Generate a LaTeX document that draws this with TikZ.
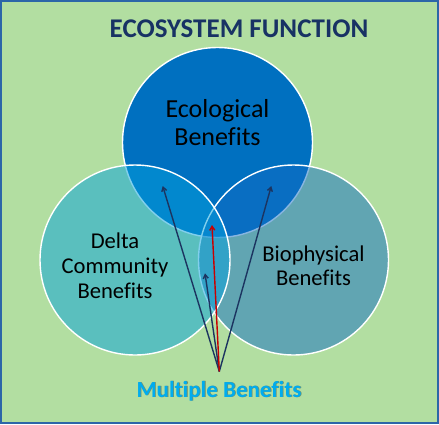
\documentclass[tikz,border=0pt]{standalone}
\usepackage{fontspec}
\setmainfont[Ligatures=NoCommon]{Carlito}
\usetikzlibrary{arrows.meta}
\definecolor{bggreen}{RGB}{178,222,161}
\definecolor{frameblue}{RGB}{44,102,168}
\definecolor{topblue}{RGB}{0,112,192}
\definecolor{rightblue}{RGB}{18,109,196}
\definecolor{leftblue}{RGB}{4,161,220}
\definecolor{navy}{RGB}{24,50,100}
\definecolor{arrownavy}{RGB}{28,52,96}
\definecolor{arrowred}{RGB}{200,0,0}
\definecolor{multiblue}{RGB}{0,172,238}
\tikzset{
  venn/.style={circle, minimum size=190pt, inner sep=0pt, draw=white, line width=1.4pt},
  lbl/.style={anchor=base, inner sep=0pt, text=black},
  arr/.style={line width=1.4pt, -{Straight Barb[length=4pt,width=5pt]}},
}
\begin{document}
\begin{tikzpicture}[x=1pt,y=-1pt]
\useasboundingbox (0,0) rectangle (439,424);
\fill[bggreen] (0,0) rectangle (439,424);
\draw[frameblue, line width=2.4pt] (1.2,1.2) rectangle (437.8,422.8);
% circles
\node[venn, fill=topblue] (top) at (217.5,142.5) {};
\node[venn, fill=rightblue, fill opacity=0.5] (right) at (293.5,260) {};
\node[venn, fill=leftblue, fill opacity=0.5] (left) at (135,260) {};
% title
\node[anchor=base, inner sep=0pt, text=navy, font=\bfseries\fontsize{27}{31}\selectfont] (title) at (239,37.3) {ECOSYSTEM FUNCTION};
% labels
\node[lbl, font=\fontsize{26}{30}\selectfont] (eco1) at (217.5,117) {Ecological};
\node[lbl, font=\fontsize{26}{30}\selectfont] (eco2) at (217.5,145) {Benefits};
\node[lbl, font=\fontsize{22.6}{26}\selectfont] (del1) at (115,248.3) {Delta};
\node[lbl, font=\fontsize{22.6}{26}\selectfont] (del2) at (115,273.3) {Community};
\node[lbl, font=\fontsize{22.6}{26}\selectfont] (del3) at (115,298.3) {Benefits};
\node[lbl, font=\fontsize{22.6}{26}\selectfont] (bio1) at (313.5,261.7) {Biophysical};
\node[lbl, font=\fontsize{22.6}{26}\selectfont] (bio2) at (313.5,285.5) {Benefits};
% multiple benefits
\node[anchor=base, inner sep=0pt, text=black, text opacity=0.35, font=\bfseries\fontsize{23}{27}\selectfont] (mbshadow) at (219.8,397.8) {Multiple Benefits};
\node[anchor=base, inner sep=0pt, text=multiblue, font=\bfseries\fontsize{23}{27}\selectfont] (mb) at (219,397) {Multiple Benefits};
% arrows
\coordinate (src) at (219.3,371.5);
\coordinate (t1) at (162.7,186);
\coordinate (t2) at (271.3,186);
\coordinate (t3) at (212,225);
\coordinate (t4) at (205,273.3);
\draw[arr, arrownavy] (src) -- (t1);
\draw[arr, arrownavy] (src) -- (t2);
\draw[arr, arrownavy] (src) -- (t4);
\draw[arr, arrowred] (src) -- (t3);
\end{tikzpicture}
\end{document}
